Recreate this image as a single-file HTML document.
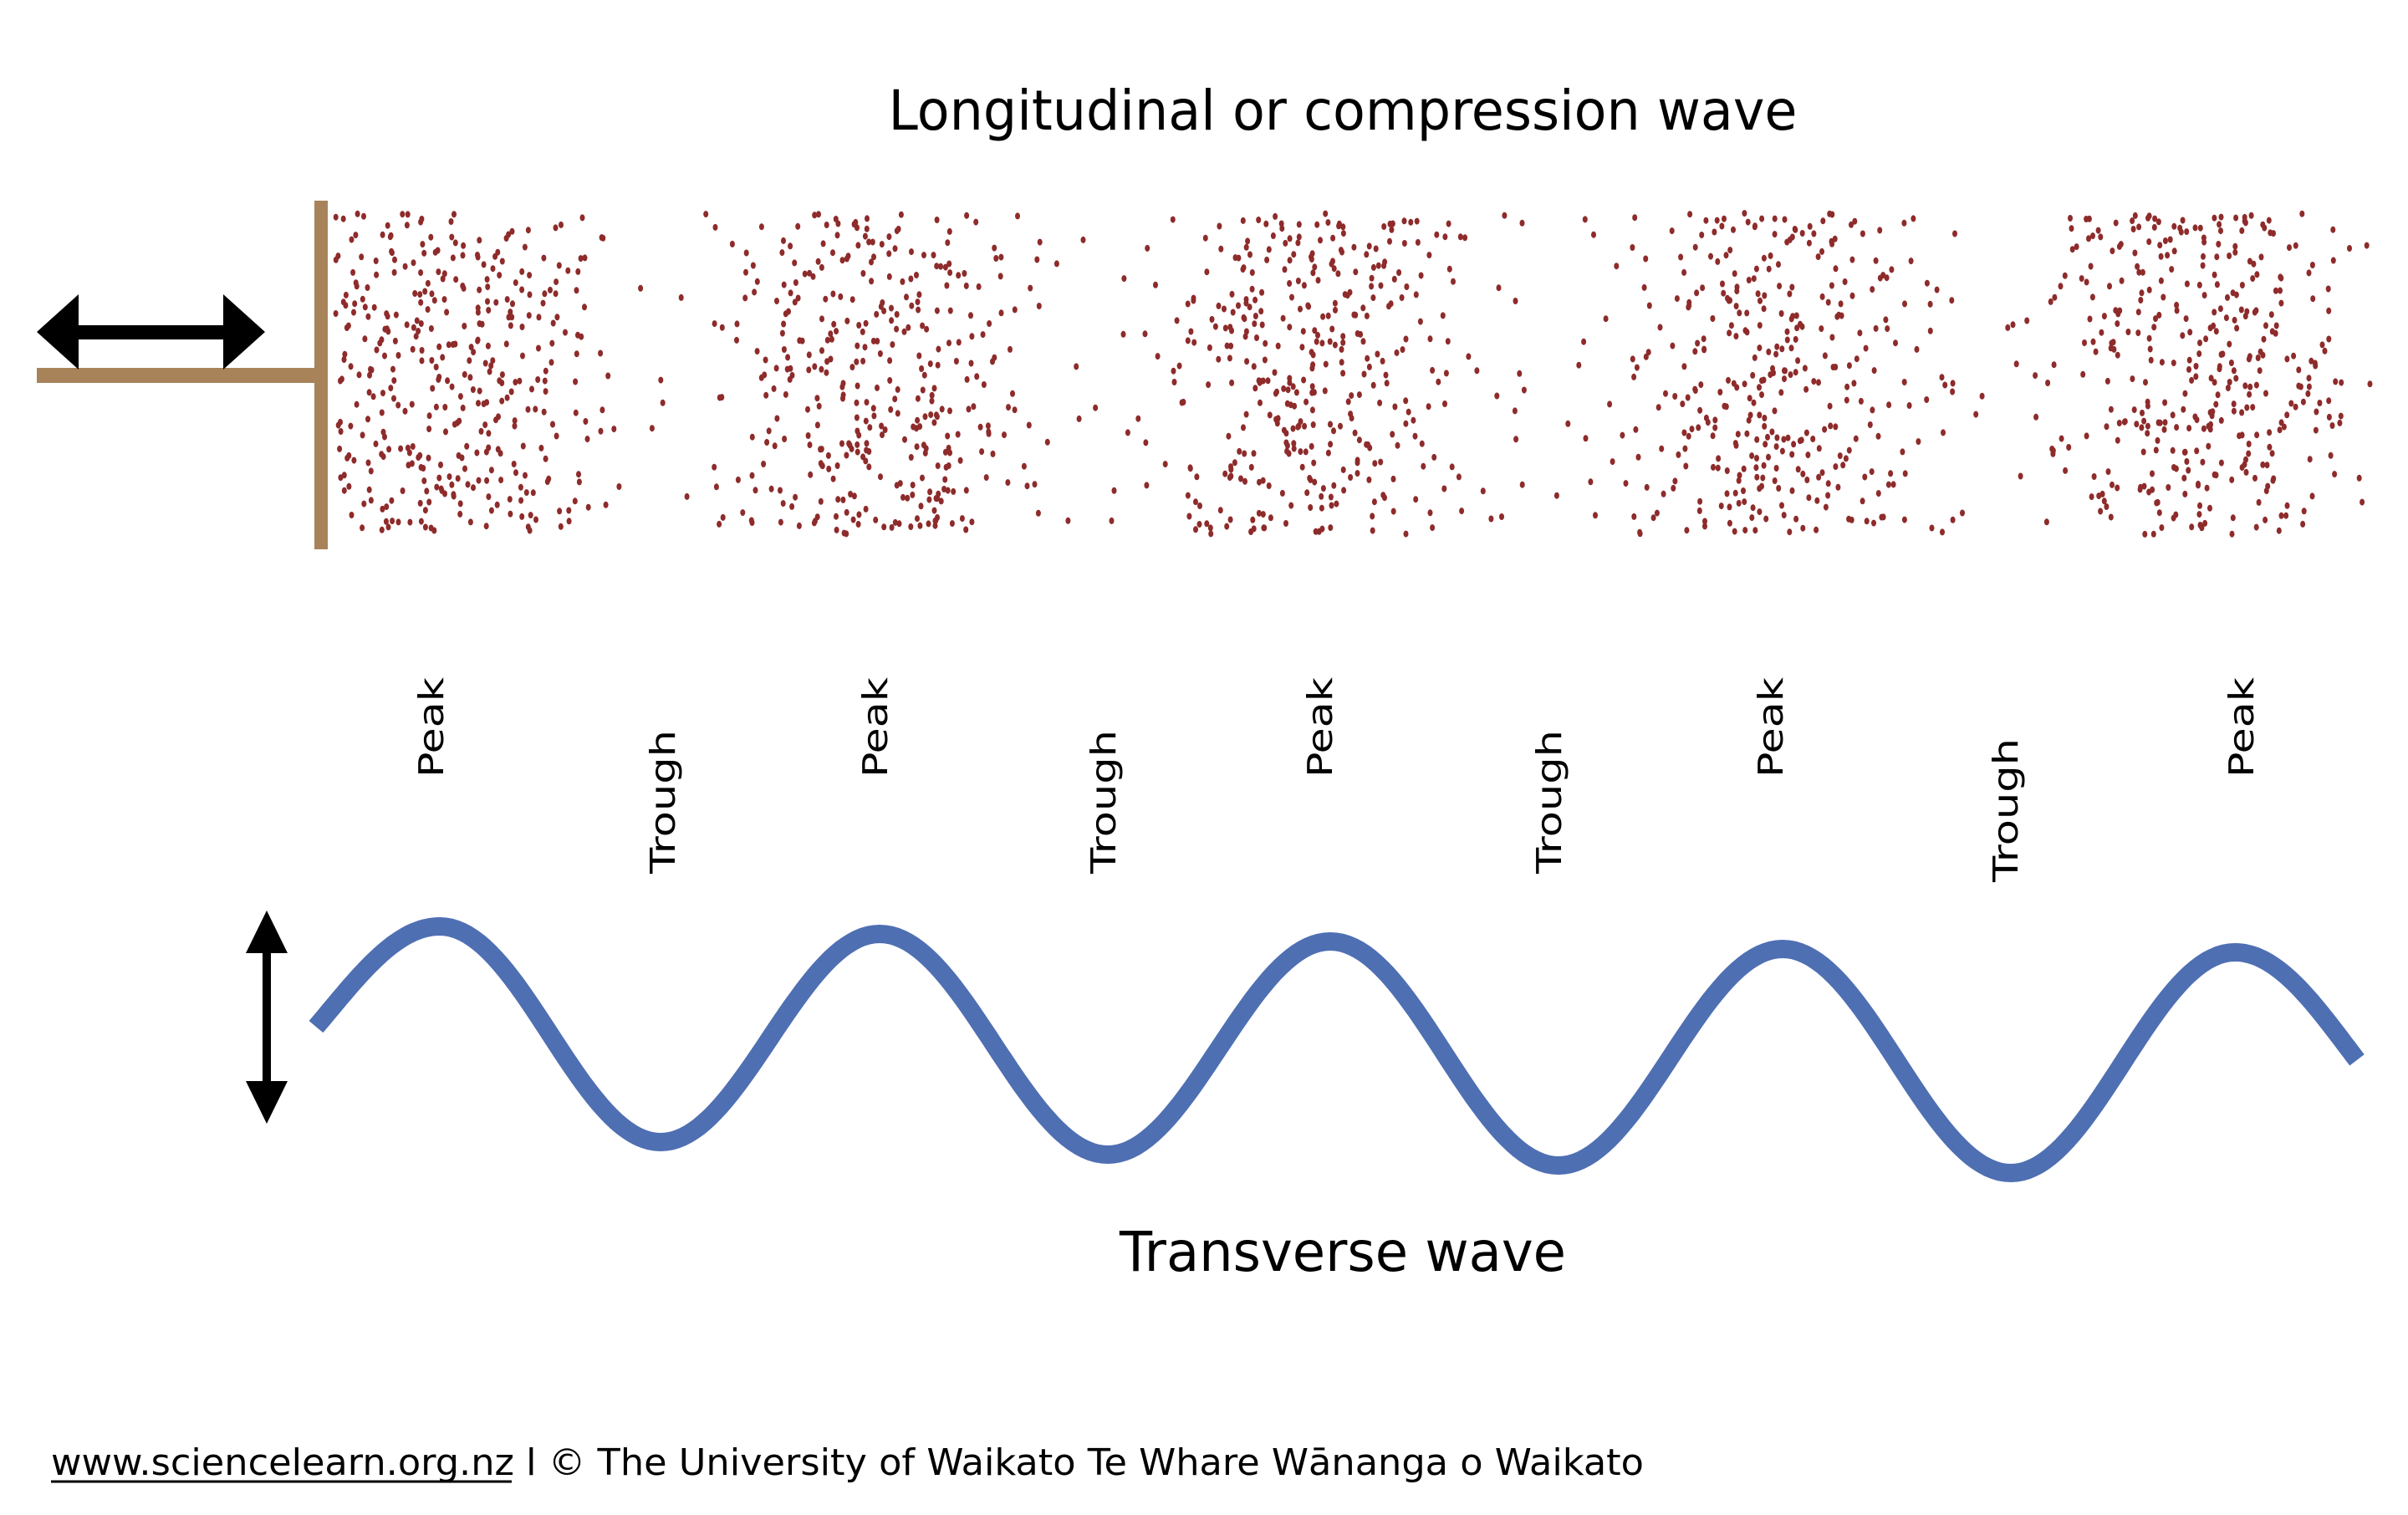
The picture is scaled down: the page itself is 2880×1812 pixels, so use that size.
<!DOCTYPE html>
<html><head><meta charset="utf-8"><style>
html,body{margin:0;padding:0;background:#fff;}
svg{display:block;}
text{font-family:"DejaVu Sans","Liberation Sans",sans-serif;fill:#000;}
</style></head><body>
<svg id="s" width="2880" height="1812" viewBox="0 0 2880 1812" xmlns="http://www.w3.org/2000/svg">
<rect width="2880" height="1812" fill="#fff"/>
<text x="1606" y="155" font-size="66" text-anchor="middle" textLength="1087" lengthAdjust="spacingAndGlyphs">Longitudinal or compression wave</text>
<g id="dots" fill="#8e2b2b"></g>
<rect x="376" y="240" width="16" height="417" fill="#a8835a"/>
<rect x="44" y="440" width="340" height="18" fill="#a8835a"/>
<rect x="88" y="389" width="186" height="17" fill="#000"/>
<polygon points="44,397 94,352 94,442" fill="#000"/>
<polygon points="317,397 267,352 267,442" fill="#000"/>
<g font-size="41">
<text transform="translate(530,930) rotate(-90)" textLength="120" lengthAdjust="spacingAndGlyphs">Peak</text>
<text transform="translate(1061,930) rotate(-90)" textLength="120" lengthAdjust="spacingAndGlyphs">Peak</text>
<text transform="translate(1593,930) rotate(-90)" textLength="120" lengthAdjust="spacingAndGlyphs">Peak</text>
<text transform="translate(2132,930) rotate(-90)" textLength="120" lengthAdjust="spacingAndGlyphs">Peak</text>
<text transform="translate(2695,930) rotate(-90)" textLength="120" lengthAdjust="spacingAndGlyphs">Peak</text>
<text transform="translate(807,1045) rotate(-90)" textLength="172" lengthAdjust="spacingAndGlyphs">Trough</text>
<text transform="translate(1334,1045) rotate(-90)" textLength="172" lengthAdjust="spacingAndGlyphs">Trough</text>
<text transform="translate(1867,1045) rotate(-90)" textLength="172" lengthAdjust="spacingAndGlyphs">Trough</text>
<text transform="translate(2413,1055) rotate(-90)" textLength="172" lengthAdjust="spacingAndGlyphs">Trough</text>
</g>
<path id="wave" fill="none" stroke="#4f6fb3" stroke-width="22"/>
<rect x="314" y="1130" width="10" height="175" fill="#000"/>
<polygon points="319,1089 294,1140 344,1140" fill="#000"/>
<polygon points="319,1344 294,1293 344,1293" fill="#000"/>
<text x="1606" y="1520" font-size="66" text-anchor="middle" textLength="534" lengthAdjust="spacingAndGlyphs">Transverse wave</text>
<text x="61" y="1764" font-size="44" textLength="1905" lengthAdjust="spacingAndGlyphs">www.sciencelearn.org.nz l © The University of Waikato Te Whare Wānanga o Waikato</text>
<line x1="61" y1="1772" x2="612" y2="1772" stroke="#000" stroke-width="3"/>
</svg>
<script>
(function(){
var seed=12345;function r(){seed=(seed*1103515245+12345)%2147483648;return seed/2147483648;}
var g=document.getElementById('dots'),h="";
var centers=[535,1052,1569,2123,2640];var period=526;
var n=0;
while(n<3600){
 var x=400+r()*2440,y=255+r()*385;
 var d=1e9;for(var i=0;i<centers.length;i++){d=Math.min(d,Math.abs(x-centers[i]));}
 var p=0.5+0.5*Math.cos(Math.PI*Math.min(d,period/2)/(period/2));
 p=0.06+0.94*Math.pow(p,1.2);
 if(r()<p){h+='<ellipse cx="'+x.toFixed(1)+'" cy="'+y.toFixed(1)+'" rx="3" ry="4"/>';}
 n++;
}
g.innerHTML=h;
var pts=[[378,1228],[526,1108],[790,1366],[1052,1117],[1325,1381],[1591,1126],[1864,1394],[2132,1135],[2405,1403],[2673,1139],[2819,1268]];
var dstr="";
for(var k=0;k<pts.length-1;k++){
 var a=pts[k],b=pts[k+1];
 var x0=a[0],x1=b[0];
 var ext0=a[1],ext1=b[1],t0=0,t1=1;
 if(k==0){ var fx=526-264; ext0=1310; t0=(378-fx)/(526-fx); x0=fx;}
 if(k==pts.length-2){ var lx=2673+268; ext1=1365; t1=(2819-2673)/(lx-2673); x1=lx;}
 for(var s=0;s<=40;s++){
  var t=t0+(t1-t0)*s/40;
  var x=x0+(x1-x0)*t;
  var y=ext0+(ext1-ext0)*(1-Math.cos(Math.PI*t))/2;
  dstr+=(dstr?"L":"M")+x.toFixed(1)+","+y.toFixed(1);
 }
}
document.getElementById('wave').setAttribute('d',dstr);
})();
</script>
</body></html>
